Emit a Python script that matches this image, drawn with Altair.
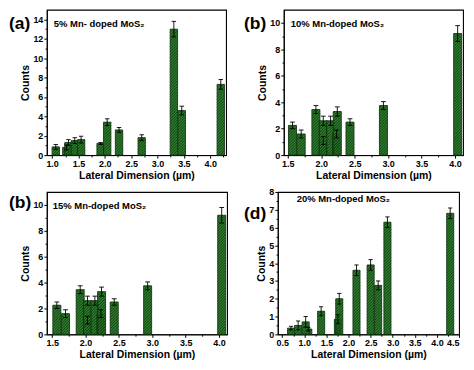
import math
import altair as alt
import pandas as pd

FONT = "Liberation Sans"
BAR_FILL = "#2e7a2e"
HATCH = "#0f3d0f"
BAR_STROKE = "#0c2c0c"
XTITLE = "Lateral Dimension (µm)"

# ---- panel (a): 5% Mn-doped MoS2 ----
a_center = [1.07, 1.27, 1.31, 1.43, 1.55, 1.92, 2.045, 2.27, 2.70, 3.31, 3.46, 4.20]
a_count = [0.85, 0.80, 1.30, 1.50, 1.60, 1.20, 3.40, 2.60, 1.80, 13.0, 4.60, 7.30]
a_err = [0.25, 0.25, 0.30, 0.30, 0.35, 0.10, 0.35, 0.25, 0.30, 0.80, 0.45, 0.50]
a_xticks = [1.0, 1.5, 2.0, 2.5, 3.0, 3.5, 4.0]
a_xminor = [1.25, 1.75, 2.25, 2.75, 3.25, 3.75, 4.25]
a_yticks = [0, 2, 4, 6, 8, 10, 12, 14]
a_yminor = [1, 3, 5, 7, 9, 11, 13]

# ---- panel (b): 10% Mn-doped MoS2 ----
b_center = [1.57, 1.70, 1.92, 2.03, 2.03, 2.14, 2.23, 2.24, 2.43, 2.93, 4.04]
b_count = [2.25, 1.60, 3.45, 1.10, 2.60, 2.60, 1.60, 3.30, 2.50, 3.75, 9.20]
b_err = [0.25, 0.30, 0.30, 0.30, 0.35, 0.35, 0.30, 0.35, 0.25, 0.30, 0.60]
b_xticks = [1.5, 2.0, 2.5, 3.0, 3.5, 4.0]
b_xminor = [1.75, 2.25, 2.75, 3.25, 3.75]
b_yticks = [0, 2, 4, 6, 8, 10]
b_yminor = [1, 3, 5, 7, 9]

# ---- panel (c): 15% Mn-doped MoS2 (labelled "(b)" in the original) ----
c_center = [1.57, 1.70, 1.92, 2.03, 2.03, 2.14, 2.23, 2.24, 2.43, 2.93, 4.04]
c_count = [2.25, 1.60, 3.45, 1.10, 2.60, 2.60, 1.60, 3.30, 2.50, 3.75, 9.20]
c_err = [0.25, 0.30, 0.30, 0.30, 0.35, 0.35, 0.30, 0.35, 0.25, 0.30, 0.60]

# ---- panel (d): 20% Mn-doped MoS2 ----
d_center = [0.70, 0.86, 1.09, 1.03, 1.38, 1.76, 1.79, 2.18, 2.50, 2.67, 2.88, 4.30]
d_count = [0.35, 0.50, 0.30, 0.70, 1.30, 0.85, 2.00, 3.60, 3.90, 2.75, 6.30, 6.80]
d_err = [0.10, 0.25, 0.10, 0.30, 0.25, 0.25, 0.30, 0.30, 0.30, 0.25, 0.30, 0.30]
d_xticks = [0.5, 1.0, 1.5, 2.0, 2.5, 3.0, 3.5, 4.0, 4.5]
d_xminor = [0.75, 1.25, 1.75, 2.25, 2.75, 3.25, 3.75, 4.25]
d_yticks = [0, 1, 2, 3, 4, 5, 6, 7, 8]
d_yminor = [0.5, 1.5, 2.5, 3.5, 4.5, 5.5, 6.5, 7.5]


def panel(cx, cy, ce, bw, xdom, ydom, xt, xm, yt, ym, w, h,
          tag, tag_dx, tag_dy, note, note_dx, note_dy, gap_px=2.8):
    df = pd.DataFrame({"c": cx, "n": cy, "e": ce})
    px_x = w / (xdom[1] - xdom[0])
    px_y = h / (ydom[1] - ydom[0])
    hd = bw * px_x / px_y          # rise (data units) of a 45-degree hatch line across a bar
    step = gap_px / px_y           # spacing of hatch lines (data units)
    kneg = math.ceil(hd / step) + 1

    base = alt.Chart(df).transform_calculate(
        l=f"datum.c - {bw / 2}", r=f"datum.c + {bw / 2}",
        lo="datum.n - datum.e", hi="datum.n + datum.e",
        cl=f"datum.c - {bw * 0.3}", cr=f"datum.c + {bw * 0.3}",
    )
    xs = alt.Scale(domain=xdom, nice=False, zero=False)
    ys = alt.Scale(domain=ydom, nice=False, zero=False)
    bars = base.mark_rect(fill=BAR_FILL, stroke=BAR_STROKE, strokeWidth=0.8).encode(
        x=alt.X("l:Q", scale=xs, axis=alt.Axis(values=xt, format=".1f", title=XTITLE,
                                                 orient="bottom", tickSize=3)),
        x2="r:Q",
        y=alt.Y("n:Q", scale=ys, axis=alt.Axis(values=yt, format="d", title="Counts",
                                                 orient="left", tickSize=3)),
        y2=alt.datum(0),
    )
    hatch = base.transform_calculate(
        ks=f"sequence({-kneg}, ceil(datum.n / {step}) + 1)"
    ).transform_flatten(["ks"], as_=["k"]).transform_calculate(
        ya=f"datum.k * {step}",
    ).transform_calculate(
        yb=f"datum.ya + {hd}",
    ).transform_calculate(
        y1="max(datum.ya, 0)", y2="min(datum.yb, datum.n)",
    ).transform_calculate(
        x1=f"datum.l + (datum.y1 - datum.ya) / {hd} * {bw}",
        x2=f"datum.l + (datum.y2 - datum.ya) / {hd} * {bw}",
    ).transform_filter("datum.y2 > datum.y1").mark_rule(
        color=HATCH, strokeWidth=0.9
    ).encode(
        x=alt.X("x1:Q", scale=xs, axis=None), x2="x2:Q",
        y=alt.Y("y1:Q", scale=ys, axis=None), y2="y2:Q",
    )
    err = base.mark_rule(color="black", strokeWidth=0.9).encode(
        x=alt.X("c:Q", scale=xs, axis=alt.Axis(values=xm, labels=False, title=None, domain=False,
                                                 orient="bottom", tickSize=1.8)),
        y=alt.Y("lo:Q", scale=ys, axis=alt.Axis(values=ym, labels=False, title=None, domain=False,
                                                  orient="left", tickSize=1.8)),
        y2="hi:Q",
    )
    cap_hi = base.mark_rule(color="black", strokeWidth=0.9).encode(
        x=alt.X("cl:Q", scale=xs, axis=None), x2="cr:Q",
        y=alt.Y("hi:Q", scale=ys, axis=None),
    )
    cap_lo = base.mark_rule(color="black", strokeWidth=0.9).encode(
        x=alt.X("cl:Q", scale=xs, axis=None), x2="cr:Q",
        y=alt.Y("lo:Q", scale=ys, axis=None),
    )
    tag_t = alt.Chart(pd.DataFrame({"t": [tag]})).mark_text(
        align="left", baseline="middle", font=FONT, fontSize=17.5, fontWeight="bold", color="black"
    ).encode(text="t:N", x=alt.value(tag_dx), y=alt.value(tag_dy))
    note_t = alt.Chart(pd.DataFrame({"t": [note]})).mark_text(
        align="left", baseline="middle", font=FONT, fontSize=9.5, fontWeight="bold", color="black"
    ).encode(text="t:N", x=alt.value(note_dx), y=alt.value(note_dy))
    return alt.layer(bars, hatch, err, cap_hi, cap_lo, tag_t, note_t).resolve_axis(
        x="independent", y="independent"
    ).properties(width=w, height=h)


pa = panel(a_center, a_count, a_err, 0.14, [0.9, 4.3], [0, 15], a_xticks, a_xminor, a_yticks, a_yminor,
           180, 146, "(a)", -38, 14, "5% Mn- doped MoS₂", 7, 14)
pb = panel(b_center, b_count, b_err, 0.12, [1.44, 4.12], [0, 11], b_xticks, b_xminor, b_yticks, b_yminor,
           180, 146, "(b)", -40, 14, "10% Mn-doped MoS₂", 7, 14)
pc = panel(c_center, c_count, c_err, 0.12, [1.42, 4.12], [0, 11], b_xticks, b_xminor, b_yticks, b_yminor,
           181, 143, "(b)", -38, 11, "15% Mn-doped MoS₂", 6, 14)
pd_ = panel(d_center, d_count, d_err, 0.16, [0.4, 4.5], [0, 8], d_xticks, d_xminor, d_yticks, d_yminor,
            182, 143, "(d)", -34, 22, "20% Mn-doped MoS₂", 19, 7)

top = alt.hconcat(pa, pb, spacing=16)
bottom = alt.hconcat(pc, pd_, spacing=15)

chart = alt.vconcat(top, bottom, spacing=5).properties(
    padding={"left": 0, "top": 0, "right": 2, "bottom": 0}
).configure_view(
    stroke="black", strokeWidth=1.1
).configure_axis(
    domainColor="black", tickColor="black", labelColor="black", titleColor="black",
    labelFont=FONT, labelFontWeight="bold", labelFontSize=9, labelPadding=1,
    titleFont=FONT, titleFontWeight="bold", titleFontSize=10.5, titlePadding=2,
    grid=False, domainWidth=1, tickWidth=1,
)

chart.save("out.html", embed_options={"renderer": "svg", "actions": False})
